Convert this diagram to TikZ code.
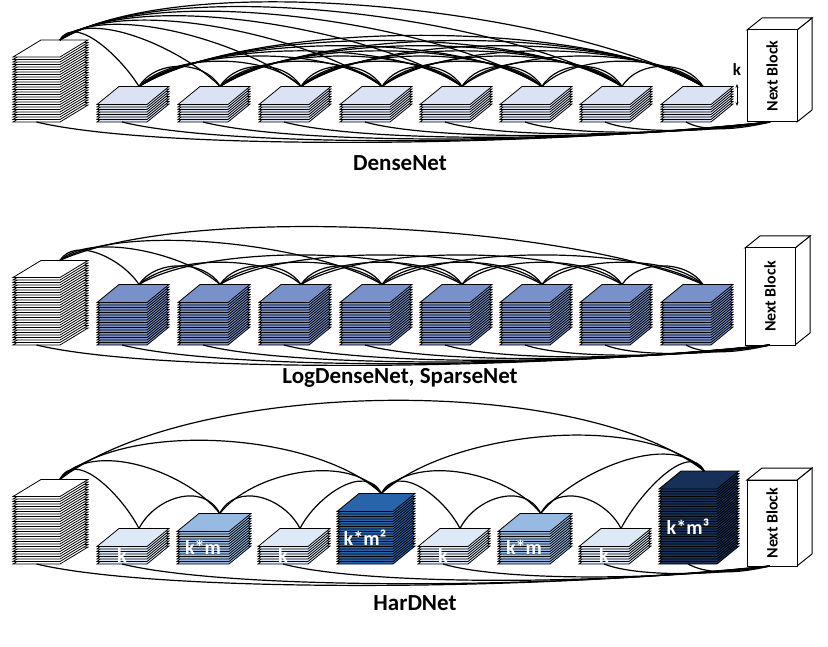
\documentclass[tikz,border=0pt]{standalone}
\usepackage{fontspec}
\setmainfont{Carlito}
\usetikzlibrary{calc,arrows.meta}
\definecolor{cA}{RGB}{218,226,243}
\definecolor{cL}{RGB}{120,145,200}
\definecolor{cK}{RGB}{222,233,247}
\definecolor{cKM}{RGB}{150,186,226}
\definecolor{cKM2}{RGB}{40,100,170}
\definecolor{cKM3}{RGB}{22,48,88}
\newcommand\hstack[8]{% x, ybottom, layers, color, width, dx, dy, name
  \foreach \ii in {1,...,#3}{%
    \pgfmathsetmacro\yy{#2-2.5*(\ii-1)}
    \filldraw[fill=#4,draw=black,line width=0.8pt] (#1,\yy) -- ++(#5,0) -- ++(#6,#7) -- ++(-#5,0) -- cycle;}
  \pgfmathsetmacro\yt{#2-2.5*(#3-1)+#7}
  \pgfmathsetmacro\xt{#1+#6+0.4*#5}
  \coordinate (#8t) at (\xt,\yt);
  \pgfmathsetmacro\xb{#1+0.5*#5}
  \coordinate (#8b) at (\xb,#2);
  \coordinate (#8f) at (#1+0.5*#5,#2-1.25*#3+1);
}
\newcommand\nextblock[3]{% x, ytop, ybottom
  \filldraw[fill=white,line width=1pt] (#1,#2) -- ++(15,-12) -- ++(0,#3-#2) -- ++(-15,12) -- cycle;
  \filldraw[fill=white,line width=1pt] (#1,#2) -- ++(15,-12) -- ++(-50,0) -- ++(-15,12) -- cycle;
  \filldraw[fill=white,line width=1pt] (#1-50,#2) rectangle (#1,#3);
  \node[rotate=90,font=\bfseries\fontsize{16}{16}\selectfont] at (#1-25,{(#2+#3)/2}) {Next Block};
}
\tikzset{arc/.style={line width=1.2pt}, lbl/.style={font=\bfseries\fontsize{23}{23}\selectfont},
 inl/.style={text=white,font=\bfseries\fontsize{20}{20}\selectfont}}
\begin{document}
\begin{tikzpicture}[x=1pt,y=-1pt]
\useasboundingbox (0,0) rectangle (828,647);
% ---------- DenseNet ----------
\hstack{13}{122}{27}{white}{47}{28}{-17}{a0}
\foreach \i/\x in {1/97,2/178,3/259,4/340,5/420,6/500,7/580,8/661}{\hstack{\x}{122}{8}{cA}{50}{22}{-18}{a\i}}
\nextblock{797}{30}{122}
\node[font=\bfseries\fontsize{17}{17}\selectfont] (kk) at (737,70) {k};
\coordinate (ku) at (737,84); \coordinate (kd) at (737,106);
\draw[{Stealth[length=4pt]}-{Stealth[length=4pt]},line width=1pt] (ku) -- (kd);
\coordinate (nb1) at (770,122);
\foreach \i in {0,...,7}{\foreach \j in {\i,...,8}{\ifnum\j>\i
  \pgfmathsetmacro\d{81*(\j-\i)}\pgfmathsetmacro\h{20+0.085*\d}
  \draw[arc] (a\i t) .. controls ($(a\i t)+(0.2*\d,-\h)$) and ($(a\j t)+(-0.2*\d,-\h)$) .. (a\j t);\fi}}
\foreach \i in {0,...,8}{\pgfmathsetmacro\d{770-(13+81*\i)}\pgfmathsetmacro\h{6+0.028*\d}
  \draw[arc] (a\i b) .. controls ($(a\i b)+(0.15*\d,\h)$) and ($(nb1)+(-0.35*\d,\h)$) .. (nb1);}
\node[lbl] (t1) at (400,163) {DenseNet};
% ---------- LogDenseNet ----------
\hstack{13}{345}{28}{white}{47}{28}{-17}{b0}
\foreach \i/\x in {1/97,2/178,3/259,4/340,5/420,6/500,7/580,8/661}{\hstack{\x}{345}{18}{cL}{50}{22}{-18}{b\i}}
\nextblock{795}{248}{345}
\coordinate (nb2) at (770,345);
\foreach \i in {0,...,7}{\foreach \s in {1,2,4,8}{\pgfmathtruncatemacro\j{\i+\s}\ifnum\j<9
  \pgfmathsetmacro\d{81*\s}\pgfmathsetmacro\h{20+0.06*\d}
  \draw[arc] (b\i t) .. controls ($(b\i t)+(0.2*\d,-\h)$) and ($(b\j t)+(-0.2*\d,-\h)$) .. (b\j t);\fi}}
\foreach \i in {0,...,8}{\pgfmathsetmacro\d{770-(13+81*\i)}\pgfmathsetmacro\h{6+0.028*\d}
  \draw[arc] (b\i b) .. controls ($(b\i b)+(0.15*\d,\h)$) and ($(nb2)+(-0.35*\d,\h)$) .. (nb2);}
\node[lbl] (t2) at (400,378) {LogDenseNet, SparseNet};
% ---------- HarDNet ----------
\hstack{13}{564}{28}{white}{47}{28}{-17}{c0}
\hstack{97}{564}{8}{cK}{50}{22}{-18}{c1}
\hstack{177}{564}{14}{cKM}{52}{22}{-18}{c2}
\hstack{258}{564}{8}{cK}{50}{22}{-18}{c3}
\hstack{337}{564}{22}{cKM2}{56}{22}{-18}{c4}
\hstack{418}{564}{8}{cK}{50}{22}{-18}{c5}
\hstack{498}{564}{14}{cKM}{52}{22}{-18}{c6}
\hstack{579}{564}{8}{cK}{50}{22}{-18}{c7}
\hstack{659}{564}{31}{cKM3}{58}{22}{-18}{c8}
\nextblock{797}{480}{566}
\coordinate (nb3) at (770,566);
\foreach \i/\j in {0/1,0/2,1/2,2/3,0/4,2/4,3/4,4/5,4/6,5/6,6/7,0/8,4/8,6/8,7/8}{
  \pgfmathsetmacro\d{81*(\j-\i)}\pgfmathsetmacro\h{22+0.12*\d}
  \draw[arc] (c\i t) .. controls ($(c\i t)+(0.2*\d,-\h)$) and ($(c\j t)+(-0.2*\d,-\h)$) .. (c\j t);}
\foreach \i in {0,1,3,5,7,8}{\pgfmathsetmacro\d{770-(13+81*\i)}\pgfmathsetmacro\h{6+0.028*\d}
  \draw[arc] (c\i b) .. controls ($(c\i b)+(0.15*\d,\h)$) and ($(nb3)+(-0.35*\d,\h)$) .. (nb3);}
\node[inl] (l1) at (c1f) {k};
\node[inl] (l2) at (c2f) {k*m};
\node[inl] (l3) at (c3f) {k};
\node[inl] (l4) at (c4f) {k*m²};
\node[inl] (l5) at (c5f) {k};
\node[inl] (l6) at (c6f) {k*m};
\node[inl] (l7) at (c7f) {k};
\node[inl] (l8) at (c8f) {k*m³};
\node[lbl] (t3) at (415,603) {HarDNet};
\end{tikzpicture}
\end{document}
